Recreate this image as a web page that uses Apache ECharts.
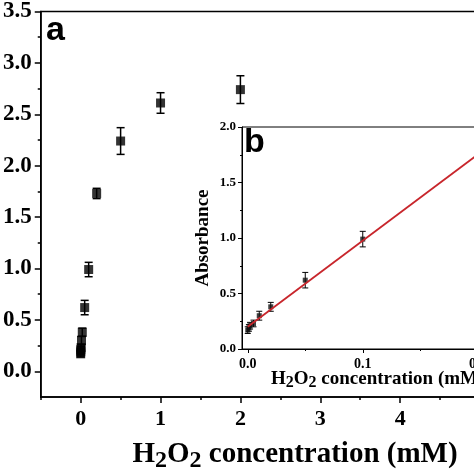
<!DOCTYPE html>
<html><head><meta charset="utf-8">
<script src="https://cdn.jsdelivr.net/npm/echarts@6/dist/echarts.min.js"></script>
<style>html,body{margin:0;padding:0;background:#fff;overflow:hidden;width:474px;height:474px}#c{width:500px;height:474px}</style>
</head><body><div id="c"></div>
<script>
// H2O2 concentration (mM), absorbance, and error bar half-heights
const concentrations = [0, 0.001, 0.002, 0.005, 0.01, 0.02, 0.05, 0.1, 0.2, 0.5, 1, 2];
const absorbance     = [0.17, 0.19, 0.21, 0.23, 0.30, 0.38, 0.62, 0.99, 1.73, 2.24, 2.61, 2.74];
const errors         = [0.03, 0.03, 0.03, 0.03, 0.04, 0.04, 0.07, 0.07, 0.05, 0.13, 0.10, 0.135];
// inset linear fit line endpoints
const fitX = [0, 0.205];
const fitY = [0.2, 1.79];
// tick labels
const mainXLabels = [0, 1, 2, 3, 4];
const mainYLabels = [0, 0.5, 1.0, 1.5, 2.0, 2.5, 3.0, 3.5];
const insetXLabels = [0, 0.1, 0.2];
const insetYLabels = [0, 0.5, 1.0, 1.5, 2.0];

const INSET_MAX = 0.205;
const mainData = concentrations.map((x, i) => [x, absorbance[i], errors[i]]);
const insetData = mainData.filter(d => d[0] <= INSET_MAX);
const fitData = fitX.map((x, i) => [x, fitY[i]]);

const serif = 'Liberation Serif';
function errRender(cap, color, lw) {
  return function (params, api) {
    const x = api.value(0), y = api.value(1), e = api.value(2);
    const t = api.coord([x, y + e]), b = api.coord([x, y - e]);
    const st = { stroke: color, lineWidth: lw };
    return { type: 'group', children: [
      { type: 'line', shape: { x1: t[0], y1: t[1], x2: b[0], y2: b[1] }, style: st },
      { type: 'line', shape: { x1: t[0] - cap, y1: t[1], x2: t[0] + cap, y2: t[1] }, style: st },
      { type: 'line', shape: { x1: b[0] - cap, y1: b[1], x2: b[0] + cap, y2: b[1] }, style: st }
    ]};
  };
}
const minorOf = (arr, step) => arr.map(v => v + step);

const chart = echarts.init(document.getElementById('c'), null, { renderer: 'canvas' });
const axisLine = { show: true, onZero: false, lineStyle: { color: '#000', width: 1.5 } };
const insetLine = { show: true, onZero: false, lineStyle: { color: '#000', width: 1 } };
chart.setOption({
  animation: false,
  backgroundColor: '#fff',
  grid: [
    { left: 40, top: 10, width: 440, height: 387, show: true, borderColor: '#000', borderWidth: 1.5, backgroundColor: 'transparent' },
    { left: 242, top: 127, width: 241.5, height: 222, show: true, borderColor: '#000', borderWidth: 1, backgroundColor: '#fff', z: 5 }
  ],
  xAxis: [
    { gridIndex: 0, type: 'value', min: -0.5, max: 5, axisLine,
      splitLine: { show: false },
      axisTick: { customValues: mainXLabels, length: 6, lineStyle: { width: 1.5 } },
      axisLabel: { customValues: mainXLabels, margin: 11, color: '#000', fontFamily: serif, fontWeight: 'bold', fontSize: 22 } },
    { gridIndex: 0, type: 'value', min: -0.5, max: 5, axisLine: { show: false, onZero: false }, splitLine: { show: false },
      axisTick: { customValues: minorOf(mainXLabels, 0.5).concat([-0.5]), length: 3, lineStyle: { width: 1.5, color: '#000' } },
      axisLabel: { show: false }, position: 'bottom' },
    { gridIndex: 1, type: 'value', min: -0.005, max: INSET_MAX, z: 6,
      axisLine: insetLine, splitLine: { show: false },
      axisTick: { customValues: insetXLabels, length: 4, lineStyle: { width: 1 } },
      axisLabel: { customValues: insetXLabels, margin: 8, color: '#000', fontFamily: serif, fontWeight: 'bold', fontSize: 14, formatter: v => v.toFixed(1) } },
    { gridIndex: 1, type: 'value', min: -0.005, max: INSET_MAX, z: 6, axisLine: { show: false, onZero: false }, splitLine: { show: false },
      axisTick: { customValues: minorOf(insetXLabels, 0.05), length: 2, lineStyle: { width: 1, color: '#000' } },
      axisLabel: { show: false }, position: 'bottom' }
  ],
  yAxis: [
    { gridIndex: 0, type: 'value', min: -0.25, max: 3.5, axisLine,
      splitLine: { show: false },
      axisTick: { customValues: mainYLabels, length: 6, lineStyle: { width: 1.5 } },
      axisLabel: { customValues: mainYLabels, margin: 9, color: '#000', fontFamily: serif, fontWeight: 'bold', fontSize: 23, formatter: v => v.toFixed(1) } },
    { gridIndex: 0, type: 'value', min: -0.25, max: 3.5, position: 'left', axisLine: { show: false, onZero: false }, splitLine: { show: false },
      axisTick: { customValues: minorOf(mainYLabels, -0.25).slice(1).concat([3.25]), length: 3, lineStyle: { width: 1.5, color: '#000' } },
      axisLabel: { show: false } },
    { gridIndex: 1, type: 'value', min: 0, max: 2, z: 6,
      axisLine: insetLine, splitLine: { show: false },
      axisTick: { customValues: insetYLabels, length: 4, lineStyle: { width: 1 } },
      axisLabel: { customValues: insetYLabels, margin: 6, color: '#000', fontFamily: serif, fontWeight: 'bold', fontSize: 13, formatter: v => v.toFixed(1) },
      name: 'Absorbance', nameLocation: 'middle', nameGap: 29, nameRotate: 90,
      nameTextStyle: { color: '#000', fontFamily: serif, fontWeight: 'bold', fontSize: 19 } },
    { gridIndex: 1, type: 'value', min: 0, max: 2, position: 'left', z: 6, axisLine: { show: false, onZero: false }, splitLine: { show: false },
      axisTick: { customValues: minorOf(insetYLabels, 0.25).slice(0, 4), length: 2, lineStyle: { width: 1, color: '#000' } },
      axisLabel: { show: false } }
  ],
  series: [
    { type: 'custom', xAxisIndex: 0, yAxisIndex: 0, data: mainData, encode: { x: 0, y: 1 },
      renderItem: errRender(4, '#000', 1.5), z: 2 },
    { type: 'scatter', xAxisIndex: 0, yAxisIndex: 0, data: mainData.map(d => [d[0], d[1]]),
      symbol: 'rect', symbolSize: 9, itemStyle: { color: '#000' }, z: 3 },
    { type: 'custom', xAxisIndex: 2, yAxisIndex: 2, data: insetData, encode: { x: 0, y: 1 }, clip: true,
      renderItem: errRender(3, '#000', 1), z: 7 },
    { type: 'scatter', xAxisIndex: 2, yAxisIndex: 2, data: insetData.map(d => [d[0], d[1]]), clip: true,
      symbol: 'rect', symbolSize: 5, itemStyle: { color: '#111' }, z: 8 },
    { type: 'line', xAxisIndex: 2, yAxisIndex: 2, data: fitData, showSymbol: false, clip: true,
      lineStyle: { color: '#c8262c', width: 1.8 }, z: 9 }
  ],
  graphic: [
    { type: 'text', left: 46, top: 14, z: 20, style: { text: 'a', font: 'bold 34px "Liberation Sans"', fill: '#000' } },
    { type: 'text', left: 244, top: 126, z: 20, style: { text: 'b', font: 'bold 34px "Liberation Sans"', fill: '#000' } },
    { type: 'text', x: 295, y: 455, z: 20, style: {
        text: '{n|H}{s|2}{n|O}{s|2}{n| concentration (mM)}', align: 'center', verticalAlign: 'middle',
        rich: { n: { fontFamily: serif, fontWeight: 'bold', fontSize: 29, fill: '#000', lineHeight: 30 },
                s: { fontFamily: serif, fontWeight: 'bold', fontSize: 24, fill: '#000', lineHeight: 30, padding: [12, 0, 0, 0] } } } },
    { type: 'text', x: 271, y: 379, z: 20, style: {
        text: '{n|H}{s|2}{n|O}{s|2}{n| concentration (mM)}', align: 'left', verticalAlign: 'middle',
        rich: { n: { fontFamily: serif, fontWeight: 'bold', fontSize: 19, fill: '#000', lineHeight: 20 },
                s: { fontFamily: serif, fontWeight: 'bold', fontSize: 16, fill: '#000', lineHeight: 20, padding: [7, 0, 0, 0] } } } }
  ]
});
</script></body></html>
